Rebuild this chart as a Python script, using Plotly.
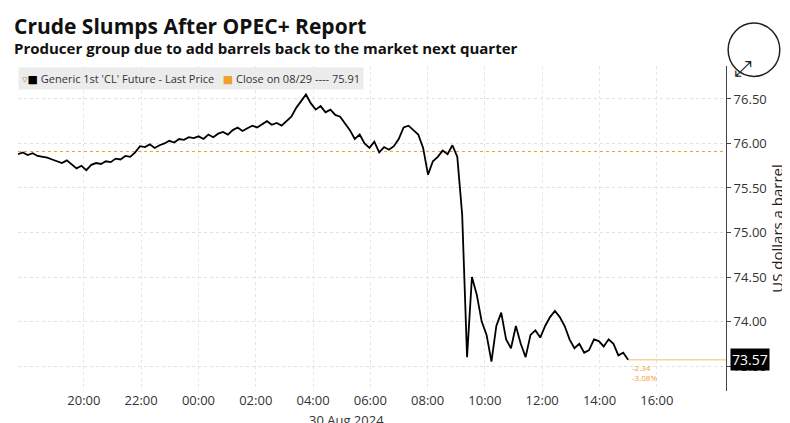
import plotly.graph_objects as go
import pandas as pd

prices = [
75.88,75.90,75.87,75.89,75.86,75.85,
75.84,75.82,75.80,75.78,75.81,75.76,
75.72,75.75,75.70,75.76,75.78,75.77,
75.80,75.79,75.83,75.82,75.86,75.85,
75.90,75.97,75.96,75.99,75.95,75.98,
76.00,76.03,76.01,76.05,76.04,76.07,
76.06,76.08,76.05,76.10,76.07,76.11,
76.13,76.10,76.15,76.18,76.14,76.17,
76.20,76.18,76.22,76.25,76.21,76.23,
76.20,76.25,76.30,76.40,76.48,76.55,
76.45,76.38,76.42,76.35,76.38,76.32,
76.30,76.22,76.15,76.05,76.10,76.00,
75.95,76.02,75.90,75.96,75.93,75.97,
76.05,76.18,76.20,76.15,76.10,75.95,
75.65,75.80,75.85,75.92,75.88,75.98,
75.85,75.20,73.60,74.50,74.30,74.00,
73.85,73.55,73.95,74.10,73.80,73.70,
73.95,73.75,73.60,73.85,73.90,73.82,
73.95,74.05,74.12,74.05,73.95,73.80,
73.70,73.75,73.65,73.68,73.80,73.78,
73.72,73.80,73.75,73.62,73.65,73.57]
times = pd.date_range("2024-08-29 17:42", "2024-08-30 15:00", periods=len(prices))
prev_close = 75.91
last = prices[-1]
y_ticks = [73.5, 74.0, 74.5, 75.0, 75.5, 76.0, 76.5]
x_ticks = pd.date_range("2024-08-29 20:00", "2024-08-30 16:00", freq="2h")
x_labels = [t.strftime("%H:%M") for t in x_ticks]

x0, x1 = pd.Timestamp("2024-08-29 17:42"), pd.Timestamp("2024-08-30 18:25")

fig = go.Figure()
fig.add_trace(go.Scatter(x=[x0, x1], y=[prev_close]*2, mode="lines",
    line=dict(color="#f0a030", width=1, dash="dot"), hoverinfo="skip"))
fig.add_trace(go.Scatter(x=[times[-1], x1], y=[last]*2, mode="lines",
    line=dict(color="#f5c060", width=1), hoverinfo="skip"))
fig.add_trace(go.Scatter(x=times, y=prices, mode="lines",
    line=dict(color="black", width=1.8)))

fig.update_layout(
    width=790, height=423, showlegend=False,
    margin=dict(l=10, r=72, t=58, b=40),
    paper_bgcolor="white", plot_bgcolor="white",
    font=dict(family="Open Sans, DejaVu Sans", color="#222"),
    xaxis=dict(range=[x0, x1], tickvals=x_ticks, ticktext=x_labels,
               showgrid=True, gridcolor="#e6e6e6", griddash="dot",
               tickfont=dict(size=13, color="#333"), zeroline=False,
               showline=False, ticks=""),
    yaxis=dict(range=[73.22, 76.87], side="right", tickvals=y_ticks,
               tickformat=".2f", showgrid=True, gridcolor="#e0e0e0", griddash="dot",
               tickfont=dict(size=13, color="#333"), showline=True, linecolor="#444",
               ticks="outside", ticklen=4, tickcolor="#444", zeroline=False,
               title=dict(text="US dollars a barrel", font=dict(size=15), standoff=2)),
)
ann = [
    dict(text="<b>Crude Slumps After OPEC+ Report</b>", x=0.0, y=1.0, xref="paper", yref="paper",
         xanchor="left", yanchor="top", yshift=56, xshift=-6, font=dict(size=21, color="#111"), showarrow=False),
    dict(text="<b>Producer group due to add barrels back to the market next quarter</b>", x=0.0, y=1.0,
         xref="paper", yref="paper", xanchor="left", yanchor="top", yshift=30, xshift=-6,
         font=dict(size=15, color="#111"), showarrow=False),
    dict(text="<span style='color:#999'>▿</span><span style='color:#000'>■</span> Generic 1st 'CL' Future - Last Price   "
              "<span style='color:#f0a030'>■</span> Close on 08/29 ---- 75.91",
         x=0.0, y=1.0, xref="paper", yref="paper", xanchor="left", yanchor="top", yshift=-1,
         font=dict(size=11, color="#333"), bgcolor="#ececec", showarrow=False, borderpad=3),
    dict(text=f"{last:.2f}", x=1.0, y=last, xref="paper", yref="y", xanchor="left",
         font=dict(size=14, color="white"), bgcolor="black", showarrow=False, xshift=4, borderpad=1),
    dict(text="-2.34<br>-3.08%", x=times[-1], y=last, xref="x", yref="y", xanchor="left", yanchor="top",
         font=dict(size=8, color="#f0a030"), showarrow=False, xshift=2, align="left"),
    dict(text="30 Aug 2024", x=pd.Timestamp("2024-08-30 05:10"), y=0, xref="x", yref="paper",
         yanchor="top", yshift=-18, font=dict(size=13, color="#333"), showarrow=False),
    dict(text="Bloomberg", x=1.0, y=0, xref="paper", yref="paper", xanchor="right", yanchor="top",
         yshift=-28, xshift=40, font=dict(size=16, color="#222"), showarrow=False),
    dict(text="⤢", x=1.0395, y=1.05, xref="paper", yref="paper", font=dict(size=22, color="#222"),
         showarrow=False),
]
fig.update_layout(annotations=ann)
fig.add_shape(type="circle", xref="paper", yref="paper", x0=1.003, x1=1.076, y0=0.968, y1=1.132,
              line=dict(color="#222", width=1.5))
fig.write_html("out.html")
